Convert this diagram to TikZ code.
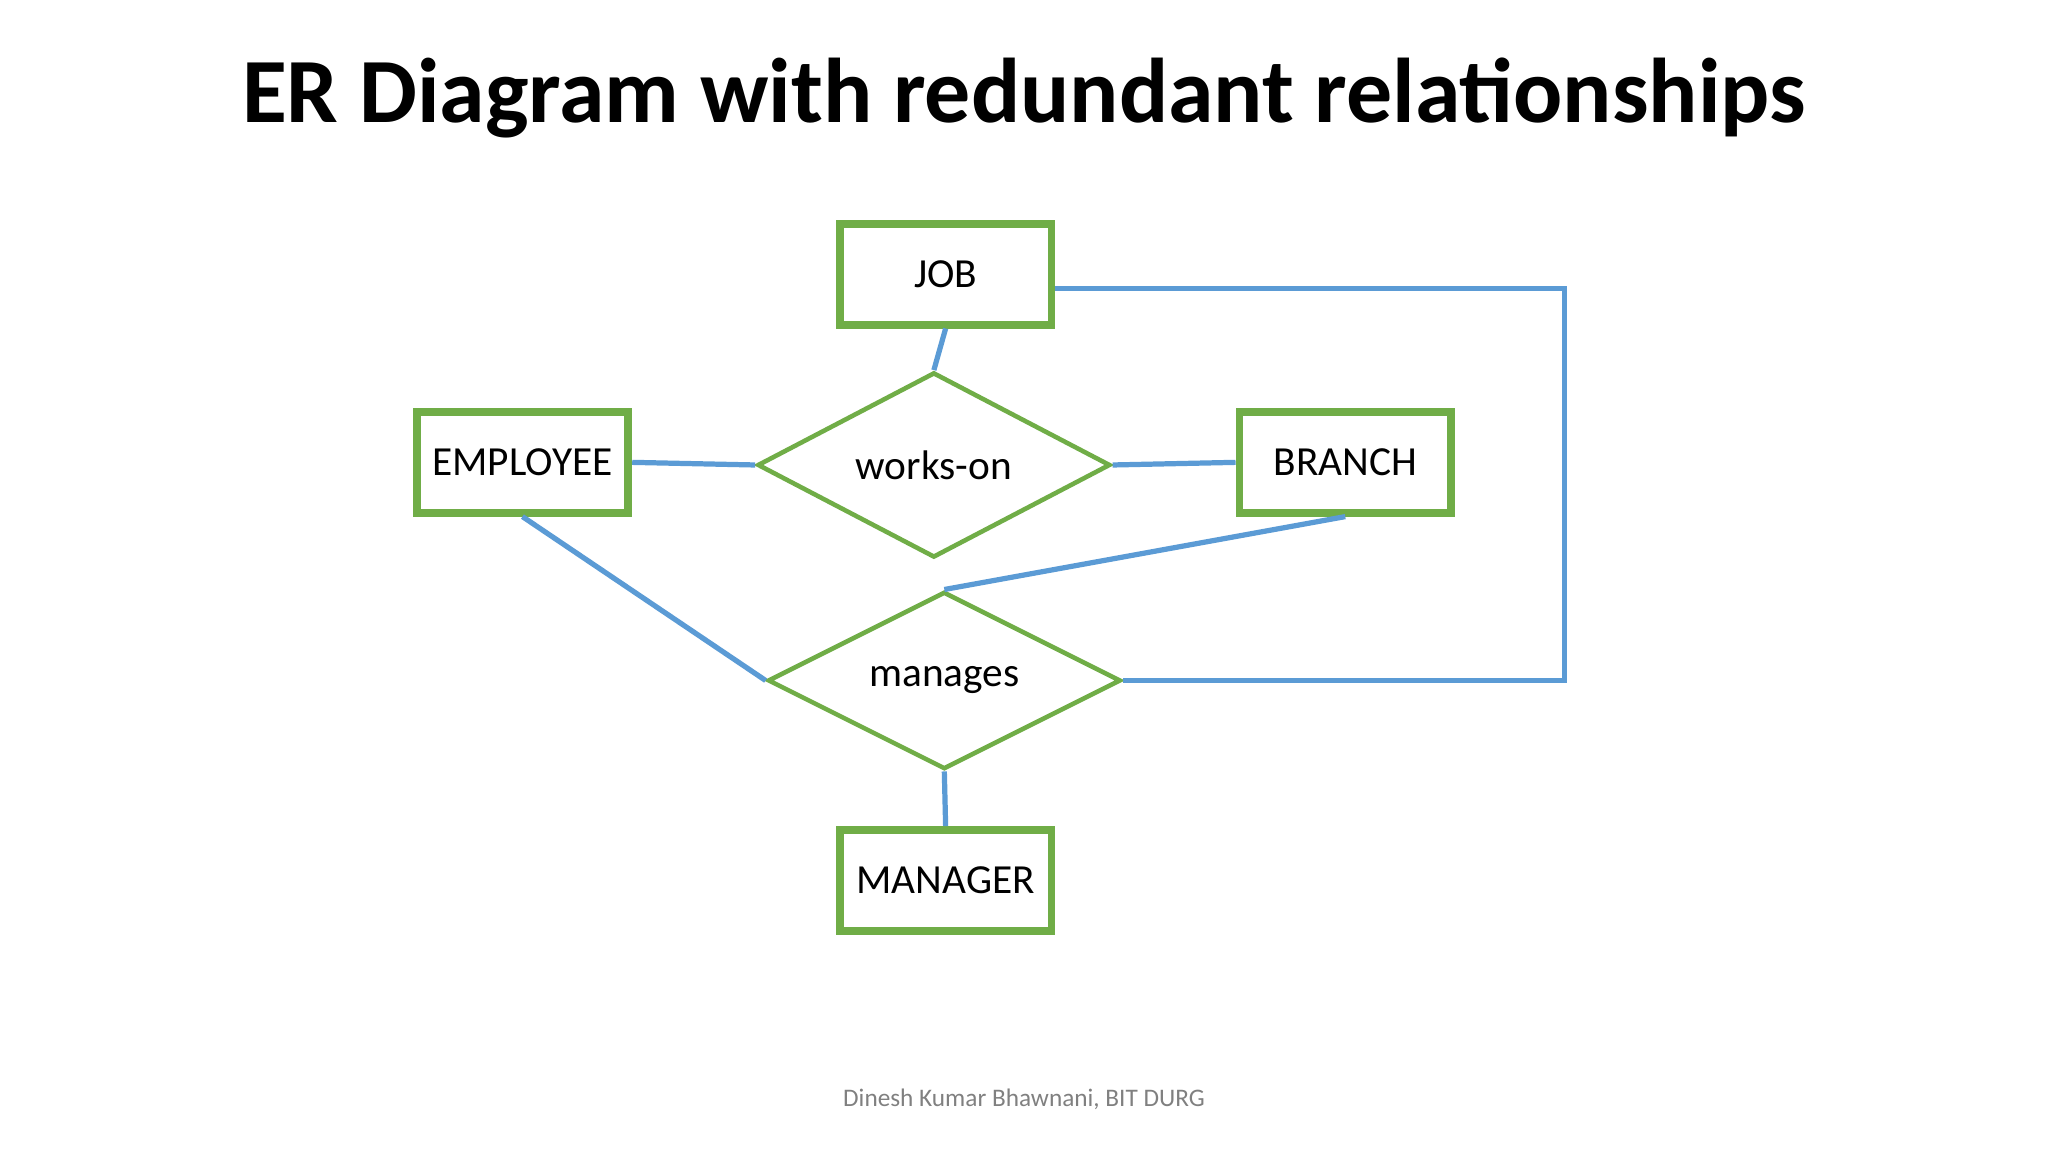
\documentclass[tikz,border=0pt]{standalone}
\usepackage{fontspec}
\setmainfont{Carlito}
\usetikzlibrary{shapes.geometric}
\definecolor{ergreen}{HTML}{70AD47}
\definecolor{erblue}{HTML}{5B9BD5}
\tikzset{
  entity/.style = {draw=ergreen, line width = .6mm, minimum width = 1.62cm, minimum height = .77cm, inner sep = 0, font = \fontsize{9}{11}\selectfont},
  relation/.style = {diamond, draw=ergreen, line width = .35mm, minimum width = 2.7cm, minimum height = 1.11cm, inner sep = 0, font = \fontsize{9}{11}\selectfont},
  link/.style = {erblue, line width = .4mm}
}
\begin{document}
\begin{tikzpicture}[x = .01cm, y = -.01cm]
        \useasboundingbox (0, 0) rectangle (1568, 882);
        \node[font = \bfseries\fontsize{20}{24}\selectfont] (title) at (784, 75) {ER Diagram with redundant relationships};
        \node (job) [entity] at (724, 210) {JOB};
        \node (employee) [entity] at (400, 354) {EMPLOYEE};
        \node (branch) [entity] at (1030, 354) {BRANCH};
        \node (manager) [entity] at (724, 674) {MANAGER};
        \node (workson) [relation] at (715, 356) {works-on};
        \node (manages) [relation] at (723, 521) {manages};
        \coordinate (jobout) at (808, 221);
        \coordinate (cornerA) at (1198, 221);
        \coordinate (cornerB) at (1198, 521);
        \draw[link] (job.south) -- (workson.north);
        \draw[link] (employee.east) -- (workson.west);
        \draw[link] (workson.east) -- (branch.west);
        \draw[link] (employee.south) -- (manages.west);
        \draw[link] (branch.south) -- (manages.north);
        \draw[link] (manages.south) -- (manager.north);
        \draw[link] (jobout) -- (cornerA) -- (cornerB) -- (manages.east);
        \node[gray, font = \fontsize{5.5}{7}\selectfont] (footer) at (784, 842) {Dinesh Kumar Bhawnani, BIT DURG};
\end{tikzpicture}
\end{document}
